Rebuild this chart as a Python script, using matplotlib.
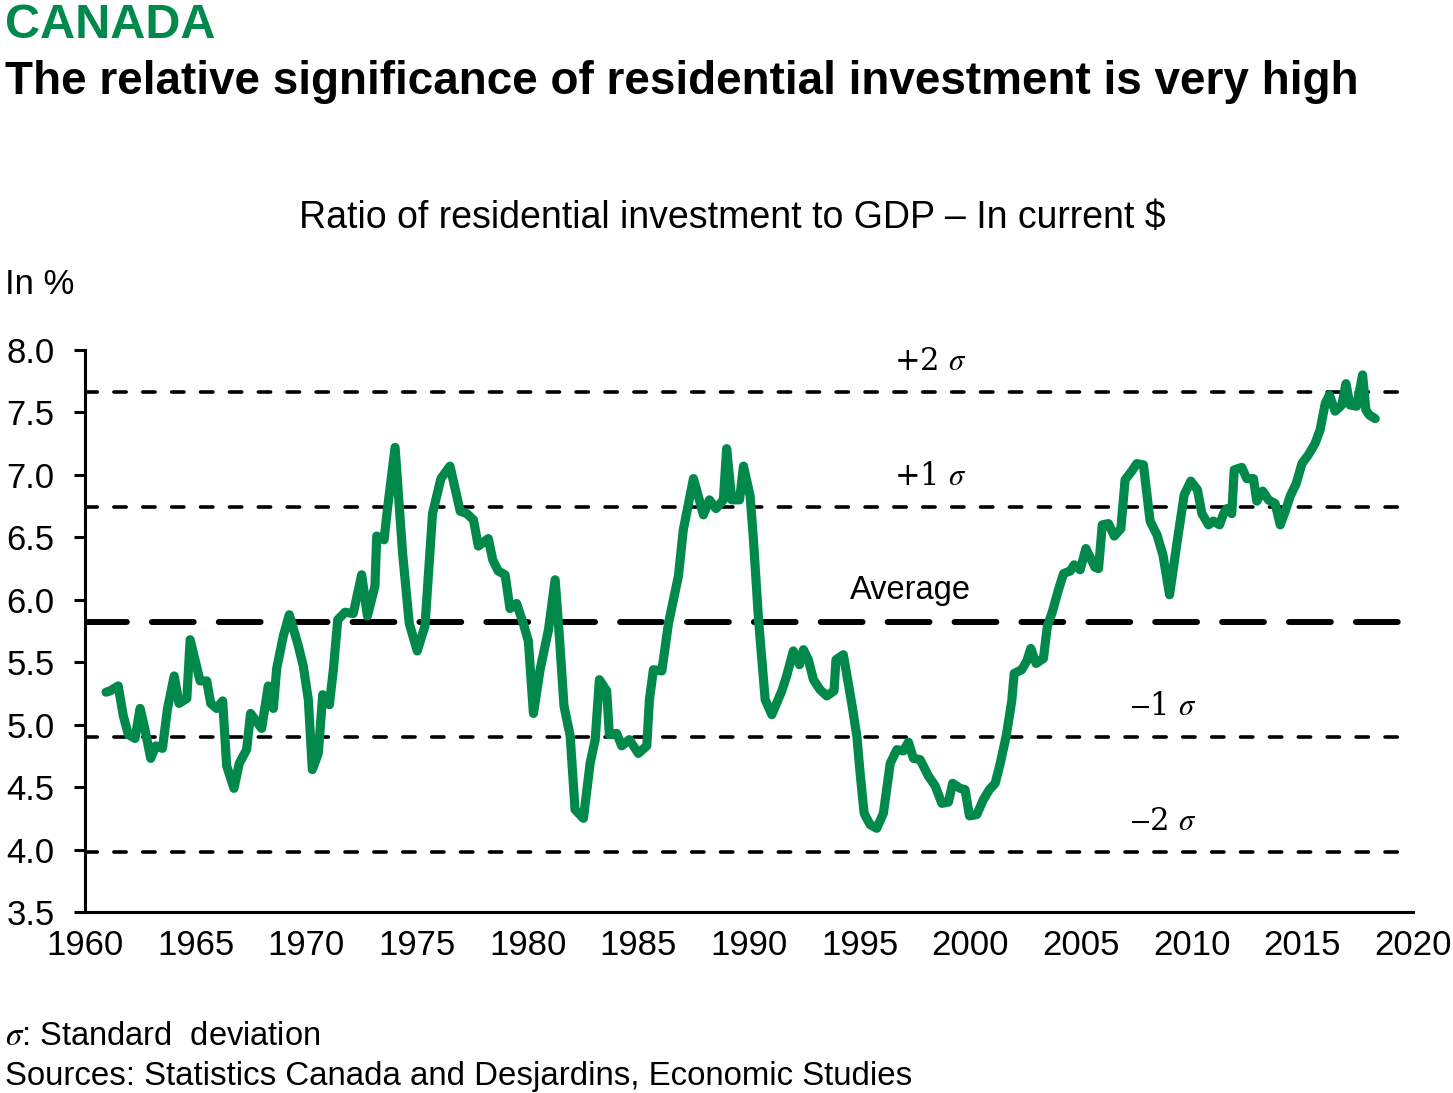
import matplotlib
matplotlib.use("Agg")
import matplotlib.pyplot as plt

plt.rcParams['font.family'] = ['Liberation Sans', 'DejaVu Sans']
plt.rcParams['mathtext.fontset'] = 'stix'

# residential investment / GDP, in %
years = [1960.95, 1961.13, 1961.5, 1961.73, 1961.96, 1962.26, 1962.49, 1962.71, 1962.97, 1963.2,
         1963.5, 1963.72, 1964.03, 1964.25, 1964.6, 1964.75, 1964.97, 1965.2, 1965.5, 1965.68,
         1965.95, 1966.22, 1966.4, 1966.73, 1966.97, 1967.3, 1967.48, 1967.98, 1968.28, 1968.51,
         1968.66, 1968.96, 1969.23, 1969.64, 1969.86, 1970.09, 1970.27, 1970.54, 1970.74, 1971.04,
         1971.22, 1971.42, 1971.75, 1972.12, 1972.5, 1972.76, 1973.1, 1973.18, 1973.51, 1973.66,
         1974.01, 1974.35, 1974.65, 1975.01, 1975.36, 1975.7, 1976.08, 1976.49, 1976.95, 1977.25,
         1977.55, 1977.77, 1978.22, 1978.42, 1978.67, 1978.98, 1979.2, 1979.5, 1979.8, 1980.03,
         1980.26, 1980.56, 1980.94, 1981.24, 1981.43, 1981.64, 1981.92, 1982.14, 1982.52, 1982.82,
         1983.05, 1983.24, 1983.57, 1983.69, 1984.02, 1984.25, 1984.59, 1985.0, 1985.38, 1985.5,
         1985.68, 1986.06, 1986.36, 1986.81, 1987.03, 1987.49, 1987.94, 1988.21, 1988.51, 1988.84,
         1988.99, 1989.22, 1989.57, 1989.75, 1990.05, 1990.2, 1990.43, 1990.73, 1991.03, 1991.48,
         1991.7, 1992.0, 1992.28, 1992.46, 1992.68, 1992.91, 1993.21, 1993.51, 1993.84, 1993.93,
         1994.26, 1994.64, 1994.87, 1995.02, 1995.2, 1995.47, 1995.77, 1996.07, 1996.38, 1996.68,
         1996.98, 1997.2, 1997.43, 1997.73, 1998.1, 1998.41, 1998.71, 1999.01, 1999.2, 1999.54,
         1999.76, 1999.96, 2000.29, 2000.59, 2000.86, 2001.12, 2001.35, 2001.62, 2001.87, 2001.98,
         2002.32, 2002.55, 2002.73, 2002.97, 2003.3, 2003.48, 2003.68, 2003.98, 2004.21, 2004.51,
         2004.69, 2004.96, 2005.22, 2005.63, 2005.79, 2005.96, 2006.24, 2006.5, 2006.8, 2006.99,
         2007.29, 2007.52, 2007.82, 2008.12, 2008.43, 2008.7, 2009.0, 2009.33, 2009.66, 2009.96,
         2010.26, 2010.46, 2010.76, 2010.98, 2011.26, 2011.44, 2011.59, 2011.81, 2011.92, 2012.26,
         2012.49, 2012.79, 2012.94, 2013.21, 2013.47, 2013.77, 2014.0, 2014.23, 2014.45, 2014.72,
         2014.98, 2015.27, 2015.57, 2015.8, 2016.03, 2016.22, 2016.48, 2016.78, 2016.97, 2017.15,
         2017.45, 2017.72, 2017.87, 2018.02, 2018.29]
ratio = [5.26, 5.27, 5.31, 5.07, 4.92, 4.89, 5.13, 4.96, 4.73, 4.83,
         4.81, 5.12, 5.39, 5.17, 5.21, 5.68, 5.52, 5.35, 5.35, 5.17,
         5.13, 5.19, 4.67, 4.49, 4.69, 4.80, 5.09, 4.97, 5.31, 5.13,
         5.45, 5.71, 5.88, 5.63, 5.47, 5.20, 4.64, 4.77, 5.24, 5.16,
         5.44, 5.84, 5.90, 5.89, 6.20, 5.87, 6.11, 6.51, 6.48, 6.72,
         7.22, 6.37, 5.81, 5.59, 5.79, 6.69, 6.97, 7.07, 6.71, 6.69,
         6.64, 6.43, 6.49, 6.32, 6.23, 6.20, 5.93, 5.97, 5.81, 5.67,
         5.09, 5.44, 5.76, 6.16, 5.71, 5.15, 4.91, 4.32, 4.25, 4.69,
         4.88, 5.36, 5.27, 4.92, 4.93, 4.83, 4.88, 4.77, 4.83, 5.20,
         5.44, 5.43, 5.81, 6.19, 6.56, 6.97, 6.68, 6.80, 6.73, 6.80,
         7.21, 6.80, 6.80, 7.07, 6.83, 6.48, 5.84, 5.20, 5.08, 5.27,
         5.39, 5.59, 5.48, 5.60, 5.52, 5.36, 5.28, 5.23, 5.27, 5.52,
         5.56, 5.17, 4.91, 4.61, 4.29, 4.20, 4.17, 4.29, 4.69, 4.80,
         4.79, 4.86, 4.73, 4.72, 4.59, 4.51, 4.37, 4.38, 4.53, 4.49,
         4.48, 4.27, 4.28, 4.40, 4.48, 4.53, 4.69, 4.91, 5.19, 5.41,
         5.44, 5.51, 5.61, 5.49, 5.53, 5.79, 5.89, 6.08, 6.21, 6.23,
         6.28, 6.24, 6.41, 6.26, 6.25, 6.60, 6.61, 6.51, 6.57, 6.96,
         7.03, 7.09, 7.08, 6.63, 6.52, 6.36, 6.04, 6.45, 6.84, 6.95,
         6.88, 6.69, 6.60, 6.63, 6.60, 6.69, 6.73, 6.69, 7.04, 7.06,
         6.97, 6.97, 6.79, 6.87, 6.80, 6.77, 6.60, 6.71, 6.83, 6.93,
         7.09, 7.16, 7.25, 7.36, 7.57, 7.64, 7.51, 7.56, 7.73, 7.56,
         7.55, 7.80, 7.52, 7.48, 7.45]

average = 5.824
std_dev = 0.92
band_labels = ['+2 σ', '+1 σ', '−1 σ', '−2 σ']
band_k = [2, 1, -1, -2]

green = '#00894B'

fig = plt.figure(figsize=(14.53, 10.93), dpi=100)
ax = fig.add_axes([0.0585, 0.1656, 0.914, 0.5142])

for k in band_k:
    ax.axhline(average + k * std_dev, color='black', lw=2.6, ls=(0, (3.4, 4.6)),
               dash_capstyle='round', zorder=1)
ax.axhline(average, color='black', lw=4.3, ls=(0, (7.0, 4.2)),
           dash_capstyle='round', zorder=1)

ax.plot(years, ratio, color=green, lw=6.6, solid_joinstyle='round',
        solid_capstyle='round', zorder=3)

# annotations for the bands
for lab, k in zip(band_labels, band_k):
    xpos = 1998.2 if k > 0 else 2008.7
    txt = lab.replace('σ', r'$\sigma$').replace('−', r'$-$')
    ax.text(xpos, average + k * std_dev + 0.24, txt, ha='center', va='center',
            fontsize=22, family=['DejaVu Serif'], math_fontfamily='stix')
ax.text(1997.3, average + 0.25, 'Average', ha='center', va='center', fontsize=23.5)

ax.set_xlim(1960, 2020)
ax.set_ylim(3.5, 8.0)
ax.set_xticks(range(1960, 2021, 5))
ax.set_yticks([3.5, 4.0, 4.5, 5.0, 5.5, 6.0, 6.5, 7.0, 7.5, 8.0])
ax.set_yticklabels(['%.1f' % v for v in ax.get_yticks()])
ax.spines['top'].set_visible(False)
ax.spines['right'].set_visible(False)
ax.spines['left'].set_linewidth(2.2)
ax.spines['bottom'].set_linewidth(2.2)
ax.tick_params(axis='y', length=8, width=2.2, pad=14, labelsize=25)
ax.tick_params(axis='x', length=0, pad=12, labelsize=25)

fig.text(0.0035, 1 - 38 / 1093, 'CANADA', color=green, fontsize=35,
         fontweight='bold', va='baseline', ha='left')
fig.text(0.0035, 1 - 94 / 1093, 'The relative significance of residential investment is very high',
         fontsize=33, fontweight='bold', va='baseline', ha='left')
fig.text(732 / 1453, 1 - 218 / 1093, 'Ratio of residential investment to GDP – In current $',
         fontsize=27, ha='center', va='center')
fig.text(0.0035, 1 - 284 / 1093, 'In %', fontsize=25, ha='left', va='center')
fig.text(0.0035, 1 - 1045 / 1093, r'$\sigma$: Standard  deviation', fontsize=23.5,
         ha='left', va='baseline', math_fontfamily='stix')
fig.text(0.0035, 1 - 1085 / 1093, 'Sources: Statistics Canada and Desjardins, Economic Studies',
         fontsize=23.8, ha='left', va='baseline')

fig.savefig('out.png', dpi=100)
